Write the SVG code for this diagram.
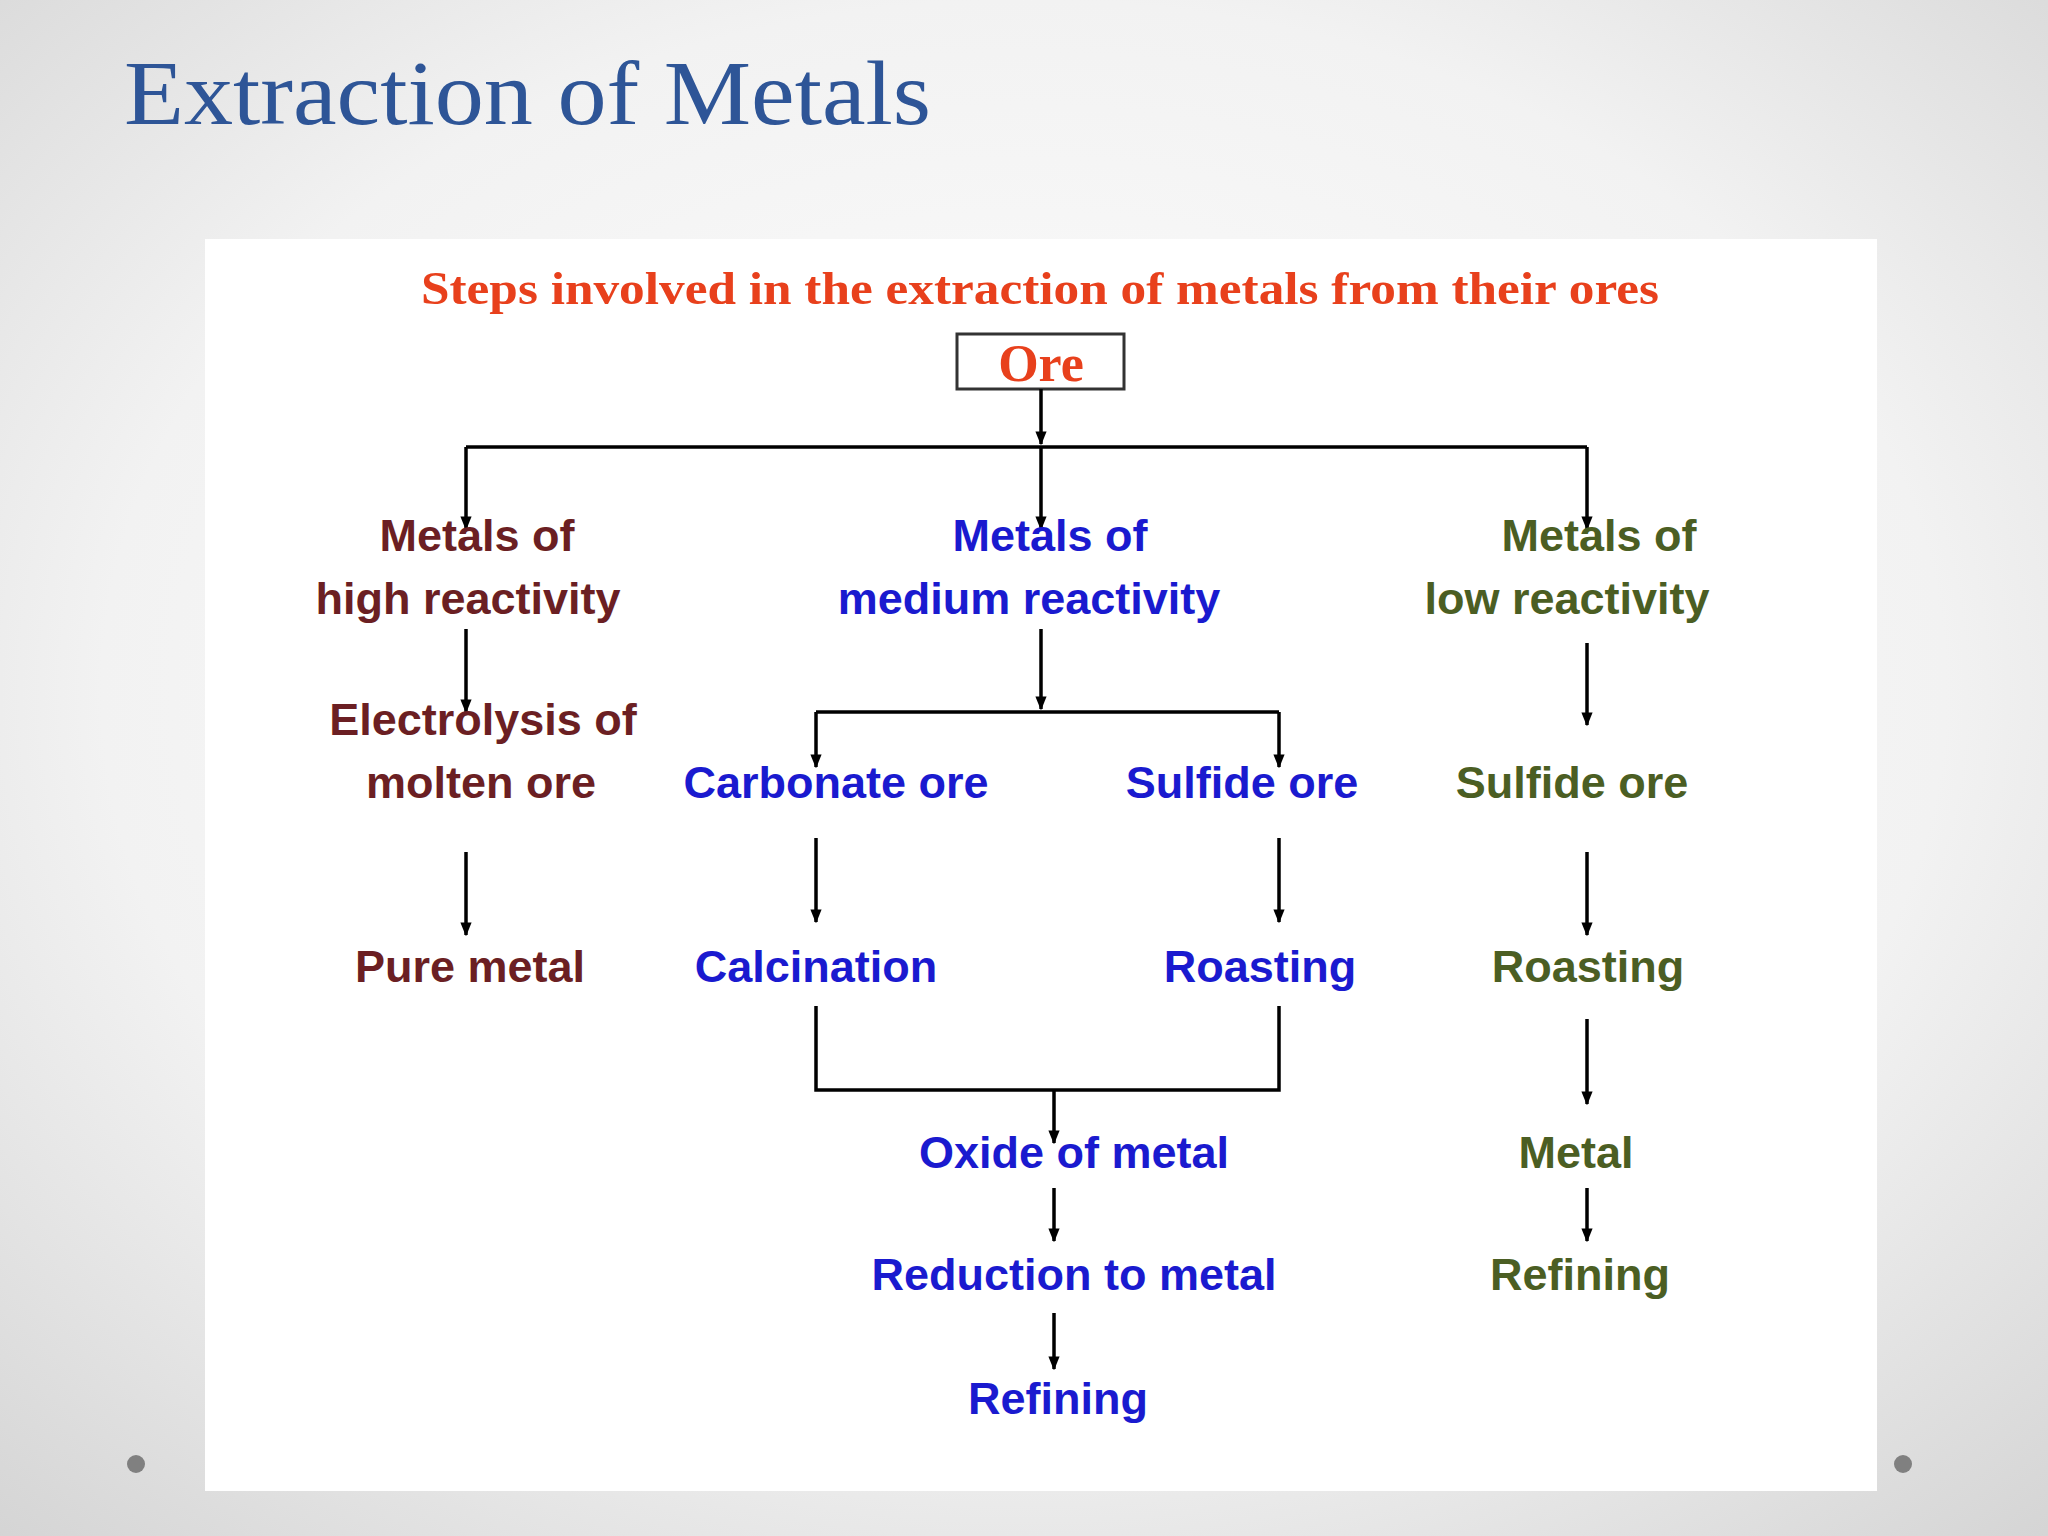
<svg xmlns="http://www.w3.org/2000/svg" width="2048" height="1536" viewBox="0 0 2048 1536">
<defs>
<radialGradient id="bg" cx="50%" cy="45%" r="75%">
<stop offset="0" stop-color="#ffffff"/><stop offset="0.6" stop-color="#f2f2f2"/><stop offset="1" stop-color="#d4d4d4"/>
</radialGradient>
<marker id="ah" viewBox="0 0 10 10" refX="9" refY="5" markerWidth="4" markerHeight="4" orient="auto" markerUnits="strokeWidth">
<path d="M0,1 L10,5 L0,9 z" fill="#000"/>
</marker>
<style>
.t{font-family:"Liberation Sans",Arial,sans-serif;font-weight:bold;font-size:45px;text-anchor:middle}
.br{fill:#6B1F23}.bl{fill:#1A1ACF}.gr{fill:#4B5E23}
.ln{stroke:#000;stroke-width:3.5;fill:none}
.ar{stroke:#000;stroke-width:3.5;fill:none;marker-end:url(#ah)}
</style>
</defs>
<rect width="2048" height="1536" fill="url(#bg)"/>
<text x="124" y="124" font-family="Liberation Serif,serif" font-size="92" fill="#2E5597" textLength="807" lengthAdjust="spacingAndGlyphs">Extraction of Metals</text>
<rect x="205" y="239" width="1672" height="1252" fill="#fff"/>
<circle cx="136" cy="1464" r="9" fill="#808080"/>
<circle cx="1903" cy="1464" r="9" fill="#808080"/>
<text x="1040" y="304" font-family="Liberation Serif,serif" font-weight="bold" font-size="46" fill="#E8401C" text-anchor="middle" textLength="1238" lengthAdjust="spacingAndGlyphs">Steps involved in the extraction of metals from their ores</text>
<g id="ore"><rect x="957" y="334" width="167" height="55" fill="#fff" stroke="#333" stroke-width="3"/>
<text x="1041" y="381" font-family="Liberation Serif,serif" font-weight="bold" font-size="52" fill="#E8401C" text-anchor="middle">Ore</text></g>
<g id="connectors">
<line class="ar" x1="1041" y1="389" x2="1041" y2="444"/>
<line class="ln" x1="466" y1="447" x2="1587" y2="447"/>
<line class="ar" x1="466" y1="447" x2="466" y2="529"/>
<line class="ar" x1="1041" y1="447" x2="1041" y2="529"/>
<line class="ar" x1="1587" y1="447" x2="1587" y2="529"/>
<line class="ar" x1="466" y1="629" x2="466" y2="712"/>
<line class="ar" x1="466" y1="852" x2="466" y2="935"/>
<line class="ar" x1="1041" y1="629" x2="1041" y2="709"/>
<line class="ln" x1="816" y1="712" x2="1279" y2="712"/>
<line class="ar" x1="816" y1="712" x2="816" y2="767"/>
<line class="ar" x1="1279" y1="712" x2="1279" y2="767"/>
<line class="ar" x1="816" y1="838" x2="816" y2="922"/>
<line class="ar" x1="1279" y1="838" x2="1279" y2="922"/>
<polyline class="ln" points="816,1006 816,1090 1279,1090 1279,1006"/>
<line class="ar" x1="1054" y1="1090" x2="1054" y2="1143"/>
<line class="ar" x1="1054" y1="1188" x2="1054" y2="1241"/>
<line class="ar" x1="1054" y1="1313" x2="1054" y2="1369"/>
<line class="ar" x1="1587" y1="643" x2="1587" y2="725"/>
<line class="ar" x1="1587" y1="852" x2="1587" y2="935"/>
<line class="ar" x1="1587" y1="1019" x2="1587" y2="1104"/>
<line class="ar" x1="1587" y1="1188" x2="1587" y2="1241"/>
</g>
<g id="high"><text class="t br" x="477" y="551">Metals of</text><text class="t br" x="468" y="614">high reactivity</text></g>
<g id="electrolysis"><text class="t br" x="483" y="735">Electrolysis of</text><text class="t br" x="481" y="798">molten ore</text></g>
<g id="pure"><text class="t br" x="470" y="982">Pure metal</text></g>
<g id="medium"><text class="t bl" x="1050" y="551">Metals of</text><text class="t bl" x="1029" y="614">medium reactivity</text></g>
<g id="carbonate"><text class="t bl" x="836" y="798">Carbonate ore</text></g>
<g id="sulfide1"><text class="t bl" x="1242" y="798">Sulfide ore</text></g>
<g id="calcination"><text class="t bl" x="816" y="982">Calcination</text></g>
<g id="roasting1"><text class="t bl" x="1260" y="982">Roasting</text></g>
<g id="oxide"><text class="t bl" x="1074" y="1168">Oxide of metal</text></g>
<g id="reduction"><text class="t bl" x="1074" y="1290">Reduction to metal</text></g>
<g id="refining1"><text class="t bl" x="1058" y="1414">Refining</text></g>
<g id="low"><text class="t gr" x="1599" y="551">Metals of</text><text class="t gr" x="1567" y="614">low reactivity</text></g>
<g id="sulfide2"><text class="t gr" x="1572" y="798">Sulfide ore</text></g>
<g id="roasting2"><text class="t gr" x="1588" y="982">Roasting</text></g>
<g id="metal"><text class="t gr" x="1576" y="1168">Metal</text></g>
<g id="refining2"><text class="t gr" x="1580" y="1290">Refining</text></g>
</svg>
